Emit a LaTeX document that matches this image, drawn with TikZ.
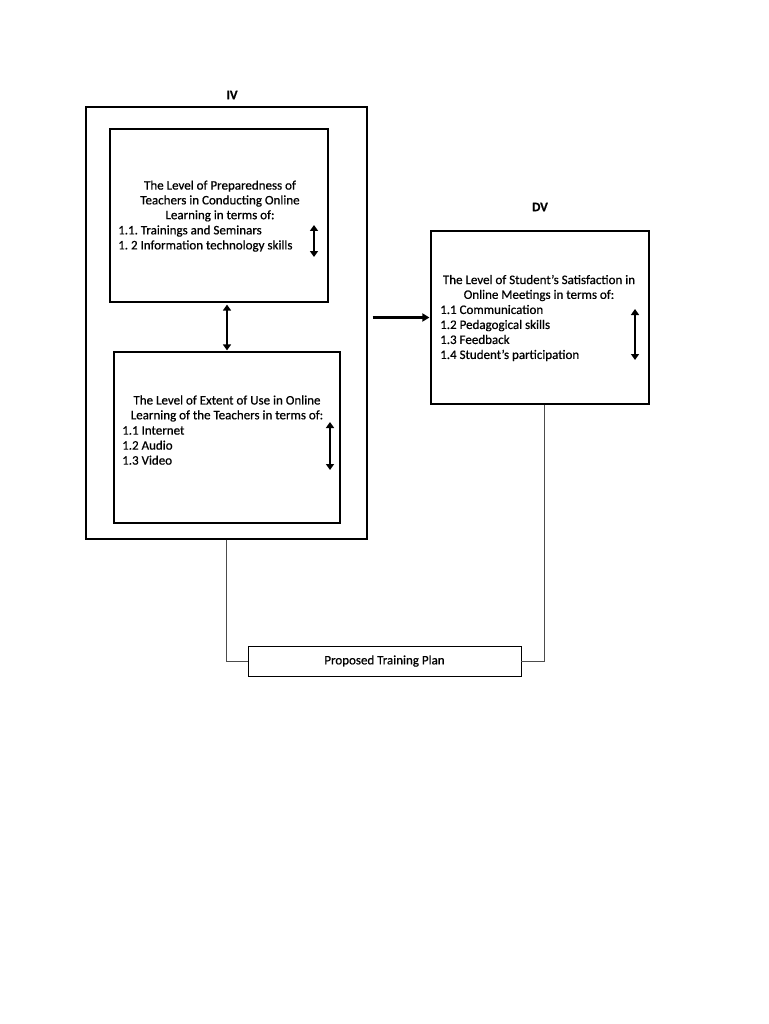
\documentclass[tikz,border=0pt]{standalone}
\usepackage{fontspec}
\setmainfont{Carlito}[FakeBold=0.6]
\usetikzlibrary{arrows.meta,calc}
\frenchspacing

\tikzset{
  box/.style={draw,line width=1.2pt,minimum width=#1,inner sep=0pt},
  heads/.style={align=center,font=\fontsize{13}{14.8}\selectfont,inner sep=0pt},
  items/.style={align=left,anchor=west,font=\fontsize{13}{15}\selectfont,inner sep=0pt},
  dbl/.style={{Triangle[length=6pt,width=8pt]}-{Triangle[length=6pt,width=8pt]},line width=2.2pt},
  link/.style={draw=black!70,line width=0.8pt}
}

\begin{document}
\begin{tikzpicture}[x=1pt,y=-1pt]
      \useasboundingbox[fill=white] (0,0) rectangle (768,1024);
      \draw
        (232, 95) node[font=\bfseries\fontsize{13}{15}\selectfont] (iv){IV}
        (540, 207) node[font=\bfseries\fontsize{13}{15}\selectfont] (dv){DV}
        (226.5, 323) node[box=281pt,minimum height=432pt] (outer){}
        (219, 215.5) node[box=218pt,minimum height=173pt] (prep){}
        (227, 437.5) node[box=226pt,minimum height=171pt] (use){}
        (540, 317.5) node[box=218pt,minimum height=173pt] (sat){}
        (384.5, 661) node[box=273pt,minimum height=30pt,line width=0.9pt,
          font=\fontsize{13}{15}\selectfont] (plan){Proposed Training Plan};
      % texts in the boxes
      \node[heads] (prephd) at (220, 201) {The Level of Preparedness of\\Teachers in Conducting Online\\Learning in terms of:};
      \node[items] (prepit) at (118, 238.5) {1.1. Trainings and Seminars\\1. 2 Information technology skills};
      \node[heads] (usehd) at (227, 408.5) {The Level of Extent of Use in Online\\Learning of the Teachers in terms of:};
      \node[items] (useit) at (122, 445.5) {1.1 Internet\\1.2 Audio\\1.3 Video};
      \node[heads] (sathd) at (539, 288) {The Level of Student’s Satisfaction in\\Online Meetings in terms of:};
      \node[items] (satit) at (440, 333) {1.1 Communication\\1.2 Pedagogical skills\\1.3 Feedback\\1.4 Student’s participation};
      % small arrows
      \coordinate (pa) at (314, 225);
      \coordinate (pb) at (314, 257);
      \coordinate (ua) at (330, 422);
      \coordinate (ub) at (330, 470);
      \coordinate (sa) at (635, 309);
      \coordinate (sb) at (635, 360);
      \begin{scope}[dbl]
        \draw (pa) -- (pb);
        \draw (ua) -- (ub);
        \draw (sa) -- (sb);
        \draw[shorten <=2pt,shorten >=1pt] (use.north |- prep.south) -- (use.north);
      \end{scope}
      \draw[-{Triangle[length=7pt,width=8pt]},line width=2.2pt,shorten <=5pt,shorten >=1pt]
        (outer.east |- sat.west) -- (sat.west);
      \begin{scope}[link]
        \draw (outer.south) |- (plan.west);
        \draw ([xshift=4pt]sat.south) |- (plan.east);
      \end{scope}
    \end{tikzpicture}
\end{document}
